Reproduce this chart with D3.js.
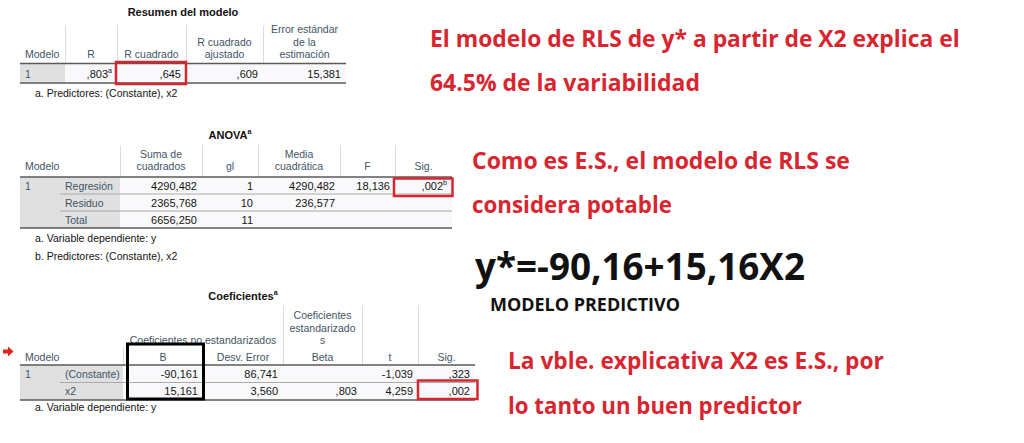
<!DOCTYPE html>
<html><head><meta charset="utf-8">
<script src="https://cdn.jsdelivr.net/npm/d3@7/dist/d3.min.js"></script>
<style>body{margin:0;background:#fff}svg{display:block}</style>
</head><body>
<svg id="c" width="1024" height="443"></svg>
<script>
// ---------------- DATA ----------------
const resumenTitle = "Resumen del modelo";
const resumenHeaders = ["Modelo", "R", "R cuadrado", "R cuadrado|ajustado", "Error estándar|de la|estimación"];
const resumenValues = [["1", ",803^a", ",645", ",609", "15,381"]];
const resumenNotes = ["a. Predictores: (Constante), x2"];

const anovaTitle = "ANOVA^a";
const anovaHeaders = ["Modelo", "", "Suma de|cuadrados", "gl", "Media|cuadrática", "F", "Sig."];
const anovaModel = "1";
const anovaLabels = ["Regresión", "Residuo", "Total"];
const anovaValues = [
  ["4290,482", "1", "4290,482", "18,136", ",002^b"],
  ["2365,768", "10", "236,577", "", ""],
  ["6656,250", "11", "", "", ""]
];
const anovaNotes = ["a. Variable dependiente: y", "b. Predictores: (Constante), x2"];

const coefTitle = "Coeficientes^a";
const coefGroupHeaders = ["Coeficientes no estandarizados", "Coeficientes|estandarizado|s"];
const coefHeaders = ["Modelo", "", "B", "Desv. Error", "Beta", "t", "Sig."];
const coefModel = "1";
const coefLabels = ["(Constante)", "x2"];
const coefValues = [
  ["-90,161", "86,741", "", "-1,039", ",323"],
  ["15,161", "3,560", ",803", "4,259", ",002"]
];
const coefNotes = ["a. Variable dependiente: y"];

const redNotes = [
  "El modelo de RLS de y* a partir de X2 explica el",
  "64.5% de la variabilidad",
  "Como es E.S., el modelo de RLS se",
  "considera potable",
  "La vble. explicativa X2 es E.S., por",
  "lo tanto un buen predictor"
];
const equationText = "y*=-90,16+15,16X2";
const equationLabel = "MODELO PREDICTIVO";

// ---------------- STYLE / LAYOUT ----------------
const svg = d3.select('#c');
svg.append('rect').attr('width', 1024).attr('height', 443).attr('fill', '#fff');

const HEAD = '#3f5566', DATA = '#141414', GRAY = '#e0e0e0', CELL = '#f9f9fb';
const TF = '"Liberation Sans", Arial, sans-serif';
const RED = '#d82630';

function addText(g, str, x, y, anchor, size, color, weight) {
  const parts = str.split('^');
  const t = g.append('text').attr('x', x).attr('y', y).attr('text-anchor', anchor)
    .attr('font-family', TF).attr('font-size', size).attr('fill', color)
    .attr('font-weight', weight || 'normal');
  t.append('tspan').text(parts[0]);
  if (parts[1]) t.append('tspan').attr('font-size', size * 0.65).attr('dy', -size * 0.42).text(parts[1]);
  return t;
}

function headText(g, str, cx, lastBase) {
  const lines = str.split('|');
  lines.forEach((l, i) => {
    addText(g, l, cx, lastBase - (lines.length - 1 - i) * 12.5, 'middle', 10.5, HEAD);
  });
}

function drawTable(cfg) {
  const g = svg.append('g');
  const xs = d3.scaleOrdinal().domain(d3.range(cfg.edges.length)).range(cfg.edges);
  const nCols = cfg.edges.length - 1;
  const right = xs(nCols);
  const ys = d3.scaleBand().domain(d3.range(cfg.rows.length))
    .range([cfg.headBottom, cfg.headBottom + cfg.rows.length * cfg.rowH]);
  const bottom = ys.range()[1];

  addText(g, cfg.title, cfg.titleX, cfg.titleY, 'middle', 11, '#111', 'bold');

  cfg.rows.forEach((row, r) => {
    for (let c = 0; c < nCols; c++) {
      if (cfg.merge && c === 0) continue;
      g.append('rect').attr('x', xs(c)).attr('y', ys(r)).attr('width', xs(c + 1) - xs(c))
        .attr('height', ys.bandwidth()).attr('fill', c < cfg.grayCols ? GRAY : CELL);
    }
  });
  if (cfg.merge) {
    g.append('rect').attr('x', xs(0)).attr('y', ys(0)).attr('width', xs(1) - xs(0))
      .attr('height', bottom - ys(0)).attr('fill', GRAY);
  }
  for (let r = 1; r < cfg.rows.length; r++) {
    g.append('line').attr('x1', xs(cfg.merge ? 1 : 0)).attr('x2', right)
      .attr('y1', ys(r)).attr('y2', ys(r)).attr('stroke', '#aaaaaa').attr('stroke-width', 1);
  }
  cfg.vlines.forEach(v => {
    g.append('line').attr('x1', xs(v.c) + 0.5).attr('x2', xs(v.c) + 0.5).attr('y1', v.y0).attr('y2', cfg.headBottom)
      .attr('stroke', '#dcdcdc').attr('stroke-width', 1);
  });
  g.append('line').attr('x1', xs(0)).attr('x2', right).attr('y1', cfg.headBottom).attr('y2', cfg.headBottom)
    .attr('stroke', '#5a5a5a').attr('stroke-width', 1.6);
  g.append('line').attr('x1', xs(0)).attr('x2', right).attr('y1', bottom).attr('y2', bottom)
    .attr('stroke', '#5a5a5a').attr('stroke-width', 1.6);

  cfg.heads.forEach(h => {
    if (!h.text) return;
    if (h.left) addText(g, h.text, xs(h.c0) + 5, h.base, 'start', 10.5, HEAD);
    else headText(g, h.text, (xs(h.c0) + xs(h.c1)) / 2, h.base);
  });

  cfg.rows.forEach((row, r) => {
    const base = ys(r) + ys.bandwidth() * 0.74;
    row.forEach((v, c) => {
      if (!v) return;
      if (c < cfg.grayCols) addText(g, v, xs(c) + 5, base, 'start', 10.5, HEAD);
      else addText(g, v, xs(c + 1) - 5, base, 'end', 11, DATA);
    });
  });

  cfg.notes.forEach((n, i) => addText(g, n, 35, cfg.noteY + i * cfg.noteGap, 'start', 10.5, DATA));

  return { g, xs, ys, bottom };
}

// ---------- Table 1 : Resumen del modelo ----------
const t1 = drawTable({
  title: resumenTitle, titleX: 183, titleY: 16,
  edges: [20, 65, 117, 186, 263, 346],
  headBottom: 63.5, rowH: 19.5, grayCols: 1, merge: false,
  rows: resumenValues,
  heads: resumenHeaders.map((h, i) => ({ text: h, c0: i, c1: i + 1, base: 58, left: i === 0 })),
  vlines: [{ c: 1, y0: 25 }, { c: 2, y0: 25 }, { c: 3, y0: 25 }, { c: 4, y0: 25 }],
  notes: resumenNotes, noteY: 97, noteGap: 18
});
svg.append('rect').attr('x', t1.xs(2) - 1).attr('y', t1.ys(0) - 1.5)
  .attr('width', t1.xs(3) - t1.xs(2) + 1).attr('height', t1.ys.bandwidth() + 2.5)
  .attr('fill', 'none').attr('stroke', RED).attr('stroke-width', 2.5);

// ---------- Table 2 : ANOVA ----------
const anovaRows = anovaValues.map((v, i) => [i === 0 ? anovaModel : "", anovaLabels[i]].concat(v));
const t2 = drawTable({
  title: anovaTitle, titleX: 230, titleY: 139,
  edges: [20, 60, 120, 202, 258, 340, 395, 452],
  headBottom: 177, rowH: 17, grayCols: 2, merge: true,
  rows: anovaRows,
  heads: anovaHeaders.map((h, i) => ({ text: h, c0: i, c1: i + 1, base: 170, left: i === 0 })),
  vlines: [2, 3, 4, 5, 6].map(c => ({ c, y0: 145 })),
  notes: anovaNotes, noteY: 242, noteGap: 18
});
svg.append('rect').attr('x', t2.xs(6) - 1).attr('y', t2.ys(0) + 1.5)
  .attr('width', t2.xs(7) - t2.xs(6) + 1.5).attr('height', t2.ys.bandwidth() + 0.5)
  .attr('fill', 'none').attr('stroke', RED).attr('stroke-width', 2.5);

// ---------- Table 3 : Coeficientes ----------
const coefRows = coefValues.map((v, i) => [i === 0 ? coefModel : "", coefLabels[i]].concat(v));
const coefHeadCfg = coefHeaders.map((h, i) => ({ text: h, c0: i, c1: i + 1, base: 361, left: i === 0 }));
coefHeadCfg.push({ text: coefGroupHeaders[0], c0: 2, c1: 4, base: 344 });
coefHeadCfg.push({ text: coefGroupHeaders[1], c0: 4, c1: 5, base: 344 });
const t3 = drawTable({
  title: coefTitle, titleX: 243, titleY: 300,
  edges: [20, 60, 123, 203, 283, 362, 418, 475],
  headBottom: 365, rowH: 17.5, grayCols: 2, merge: true,
  rows: coefRows,
  heads: coefHeadCfg,
  vlines: [{ c: 2, y0: 347 }, { c: 3, y0: 347 }, { c: 4, y0: 306 }, { c: 5, y0: 306 }, { c: 6, y0: 306 }],
  notes: coefNotes, noteY: 411, noteGap: 18
});
svg.append('rect').attr('x', t3.xs(2) + 4.5).attr('y', 344)
  .attr('width', t3.xs(3) - t3.xs(2) - 4).attr('height', t3.bottom - 344 - 1)
  .attr('fill', 'none').attr('stroke', '#000').attr('stroke-width', 3);
svg.append('rect').attr('x', t3.xs(6)).attr('y', t3.ys(1) - 2)
  .attr('width', t3.xs(7) - t3.xs(6) + 2.5).attr('height', t3.ys.bandwidth() + 1)
  .attr('fill', 'none').attr('stroke', RED).attr('stroke-width', 2.5);
svg.append('path').attr('d', 'M3,349.5 L8,349.5 L8,346.5 L13.5,351.5 L8,356.5 L8,353.5 L3,353.5 Z')
  .attr('fill', '#e2231a');

// ---------- Right-hand annotations ----------
function fitText(str, x, y, w, color, family) {
  const t = svg.append('text').attr('x', x).attr('y', y)
    .attr('font-family', family || '"Open Sans", "Noto Sans", sans-serif')
    .attr('font-weight', 700).attr('font-size', 20).attr('fill', color).text(str);
  const len = t.node().getComputedTextLength();
  t.attr('font-size', 20 * w / len);
  return t;
}
const redPos = [
  { x: 430, y: 47, w: 530 },
  { x: 430, y: 91, w: 270 },
  { x: 472, y: 169, w: 378 },
  { x: 472, y: 213, w: 200 },
  { x: 508, y: 369, w: 376 },
  { x: 508, y: 414, w: 294 }
];
redNotes.forEach((s, i) => fitText(s, redPos[i].x, redPos[i].y, redPos[i].w, RED));
fitText(equationText, 475, 280, 330, '#111');
fitText(equationLabel, 490, 311, 190, '#111');
</script>
</body></html>
